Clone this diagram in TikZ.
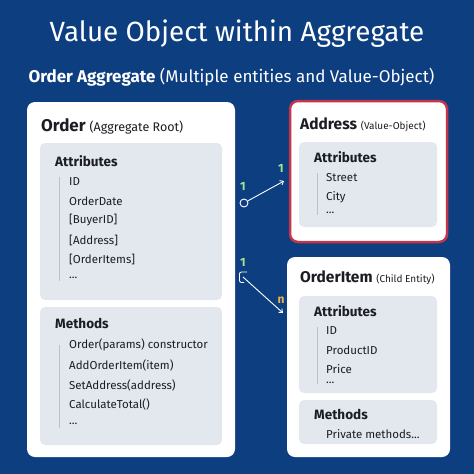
\documentclass[tikz,border=0pt]{standalone}
\usepackage{fontspec}
\setmainfont{Fira Sans}
\usetikzlibrary{arrows.meta,fit}

\definecolor{navy}{HTML}{0C3E80}
\definecolor{panelgray}{HTML}{E3E8EE}
\definecolor{ink}{HTML}{1B1D22}
\definecolor{rule}{HTML}{B9C1CB}
\definecolor{vored}{HTML}{C4354C}
\definecolor{onegreen}{HTML}{A6E58E}
\definecolor{manyorange}{HTML}{E8B54A}

\begin{document}
\begin{tikzpicture}[x=1pt,y=-1pt,
  card/.style={fill=white, rounded corners=8pt, inner sep=0pt},
  panel/.style={fill=panelgray, rounded corners=5pt, inner sep=0pt},
  title/.style={anchor=west, text=ink, inner sep=0pt},
  head/.style={anchor=west, text=ink, inner sep=0pt, font=\fontsize{13.5}{15}\selectfont\bfseries},
  item/.style={anchor=west, text=ink, inner sep=0pt, font=\fontsize{11.5}{13}\selectfont},
  bar/.style={draw=rule, line width=1pt},
  mult/.style={inner sep=0pt, font=\fontsize{12}{14}\selectfont\bfseries},
  link/.style={draw=white, line width=0.9pt, -{Straight Barb[length=3pt,width=5pt]}}]
\useasboundingbox[fill=navy] (0,0) rectangle (474,474);

% heading
\node[text=white, font=\fontsize{27.8}{32}\selectfont] (heading) at (237,34) {Value Object within Aggregate};
\node[text=white, font=\fontsize{17}{20}\selectfont] (subheading) at (231.5,77)
  {\textbf{Order Aggregate} (Multiple entities and Value-Object)};

% Order
\node[card, fit={(27,102) (235,457)}] (order) {};
\node[title] (ordertitle) at (41,126) {\fontsize{17}{20}\selectfont\bfseries Order \fontsize{12.5}{14}\mdseries(Aggregate Root)};
\node[panel, fit={(40,143) (222,300)}] (orderattr) {};
\node[head] (orderattrhead) at (55,161) {Attributes};
\draw[bar] (59,177) -- (59,281);
\node[item] at (69,182) {ID};
\node[item] at (69,201) {OrderDate};
\node[item] at (69,220) {[BuyerID]};
\node[item] at (69,240) {[Address]};
\node[item] at (69,259) {[OrderItems]};
\node[item] at (69,278) {...};
\node[panel, fit={(40,307) (222,445)}] (ordermeth) {};
\node[head] (ordermethhead) at (55,323) {Methods};
\draw[bar] (59,345) -- (59,428);
\node[item] at (69,345) {Order(params) constructor};
\node[item] at (69,365) {AddOrderItem(item)};
\node[item] at (69,385) {SetAddress(address)};
\node[item] at (69,404) {CalculateTotal()};
\node[item] at (69,424) {...};

% Address
\node[card, draw=vored, line width=2.5pt, fit={(290,101) (447,242)}] (address) {};
\node[title] (addresstitle) at (300,125) {\fontsize{15.5}{18}\selectfont\bfseries Address \fontsize{10}{12}\mdseries(Value-Object)};
\node[panel, fit={(299,142) (437,227)}] (addressattr) {};
\node[head] at (314,157) {Attributes};
\draw[bar] (317,173) -- (317,215);
\node[item] at (326,178) {Street};
\node[item] at (326,197) {City};
\node[item] at (326,213) {...};

% OrderItem
\node[card, fit={(287,257) (450,457)}] (orderitem) {};
\node[title] (orderitemtitle) at (300,278) {\fontsize{15.5}{18}\selectfont\bfseries OrderItem \fontsize{10}{12}\mdseries(Child Entity)};
\node[panel, fit={(299,296) (437,393)}] (itemattr) {};
\node[head] at (314,311) {Attributes};
\draw[bar] (317,327) -- (317,384);
\node[item] at (326,331) {ID};
\node[item] at (326,350) {ProductID};
\node[item] at (326,369) {Price};
\node[item] at (326,383) {...};
\node[panel, fit={(299,400) (437,444)}] (itemmeth) {};
\node[head] at (314,414) {Methods};
\node[item] at (326,434) {Private methods...};

% Order -> Address (1 : 1)
\node[circle, draw=white, line width=0.9pt, minimum size=8pt, inner sep=0pt] (ownaddr) at (244,203) {};
\coordinate (tipaddr) at (284,181);
\draw[link] (ownaddr) -- (tipaddr);
\node[mult, text=onegreen] at (243,186) {1};
\node[mult, text=onegreen] at (281,168) {1};

% Order -> OrderItem (1 : n)
\coordinate (ownitem) at (243,277);
\draw[white, line width=0.9pt, rounded corners=2pt] (247,272) -- (239.5,272) -- (239.5,282.5) -- (244,282.5);
\coordinate (tipitem) at (283,313);
\draw[link] (ownitem) -- (tipitem);
\node[mult, text=onegreen] at (243,262) {1};
\node[mult, text=manyorange] at (281,300) {n};
\end{tikzpicture}
\end{document}
